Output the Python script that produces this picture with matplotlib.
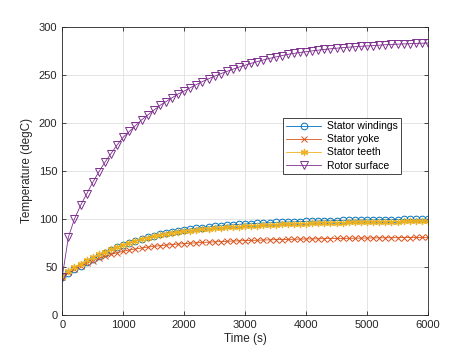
import numpy as np
import matplotlib
matplotlib.use('Agg')
import matplotlib.pyplot as plt

plt.rcParams['font.family'] = ['Liberation Sans', 'DejaVu Sans']

t = np.arange(0, 6001, 100)

windings = [40, 43.5, 47.5, 51.5, 55, 58.5, 61.5, 64.5, 67.5, 70.5,
            73, 75.3, 77.4, 79.3, 81, 82.6, 84, 85.3, 86.5, 87.6,
            88.6, 89.5, 90.3, 91, 91.7, 92.3, 92.9, 93.4, 93.9, 94.3,
            94.7, 95.1, 95.4, 95.7, 96, 96.3, 96.6, 96.8, 97, 97.2,
            97.4, 97.6, 97.8, 98, 98.1, 98.3, 98.4, 98.5, 98.7, 98.8,
            98.9, 99.0, 99.1, 99.2, 99.3, 99.3, 99.4, 99.5, 99.5, 99.6,
            99.6]
yoke = [40, 44.5, 48, 51, 54, 56.5, 59, 61, 63, 64.8,
        66.3, 67.6, 68.7, 69.7, 70.6, 71.4, 72.1, 72.7, 73.3, 73.8,
        74.3, 74.7, 75.1, 75.5, 75.8, 76.1, 76.4, 76.7, 77, 77.2,
        77.4, 77.6, 77.8, 78, 78.2, 78.4, 78.5, 78.7, 78.8, 79,
        79.1, 79.2, 79.3, 79.4, 79.5, 79.6, 79.7, 79.8, 79.9, 80.0,
        80.1, 80.2, 80.3, 80.4, 80.4, 80.5, 80.6, 80.6, 80.7, 80.7,
        80.8]
teeth = [40, 46, 50, 53.5, 57, 60, 63, 66, 68.5, 71,
         73.3, 75.4, 77.3, 79, 80.5, 81.9, 83.1, 84.2, 85.2, 86.1,
         86.9, 87.7, 88.4, 89, 89.6, 90.2, 90.7, 91.2, 91.6, 92,
         92.4, 92.8, 93.1, 93.4, 93.7, 94, 94.3, 94.5, 94.8, 95,
         95.2, 95.4, 95.6, 95.8, 95.9, 96.1, 96.2, 96.4, 96.5, 96.6,
         96.7, 96.8, 96.9, 97, 97.1, 97.2, 97.3, 97.3, 97.4, 97.5,
         97.5]
rotor = [40, 81, 100, 114, 126, 138, 149, 159, 168, 177,
         185, 191, 197, 203, 208, 213, 218, 222, 226, 230,
         233, 236.5, 239.8, 242.9, 245.8, 248.5, 251.1, 253.5, 255.8, 258,
         260, 261.9, 263.7, 265.4, 267, 268.5, 269.9, 271.2, 272.3, 273.2,
         274, 274.8, 275.6, 276.3, 277, 277.6, 278.2, 278.7, 279.2, 279.6,
         280, 280.4, 280.8, 281.2, 281.5, 281.8, 282.1, 282.3, 282.6, 282.8,
         283]

fig = plt.figure(figsize=(4.74, 3.55), dpi=100)
ax = fig.add_axes([0.1314, 0.1127, 0.7716, 0.8121])

ax.plot(t, windings, color='#0072BD', marker='o', ms=4.8, mfc='none', lw=0.6, mew=0.7,
        label='Stator windings')
ax.plot(t, yoke, color='#D95319', marker='x', ms=3.8, lw=0.6, mew=0.7,
        label='Stator yoke')
ax.plot(t, teeth, color='#EDB120', marker=(6, 2, 0), ms=5.2, lw=0.6, mew=0.9,
        label='Stator teeth')
ax.plot(t, rotor, color='#7E2F8E', marker='v', ms=5.2, mfc='none', lw=0.6, mew=0.7,
        label='Rotor surface')

ax.set_xlim(0, 6000)
ax.set_ylim(0, 300)
ax.set_xticks(np.arange(0, 6001, 1000))
ax.set_yticks(np.arange(0, 301, 50))
ax.grid(True, color='#dfdfdf', lw=0.6)
ax.set_axisbelow(True)
ax.tick_params(direction='in', top=True, right=True, labelsize=8, colors='#262626',
               length=3, width=0.6)
for s in ax.spines.values():
    s.set_color('#262626')
    s.set_linewidth(0.6)
ax.set_xlabel('Time (s)', fontsize=8.5, color='#262626', labelpad=2)
ax.set_ylabel('Temperature (degC)', fontsize=8.5, color='#262626', labelpad=4)

leg = ax.legend(loc='upper left', bbox_to_anchor=(0.603, 0.683), fontsize=7.5,
                frameon=True, fancybox=False, edgecolor='#262626', framealpha=1,
                borderpad=0.3, handlelength=3.4, labelspacing=0.3, borderaxespad=0,
                handletextpad=0.5)
leg.get_frame().set_linewidth(0.6)

fig.savefig('out.png', dpi=100)
